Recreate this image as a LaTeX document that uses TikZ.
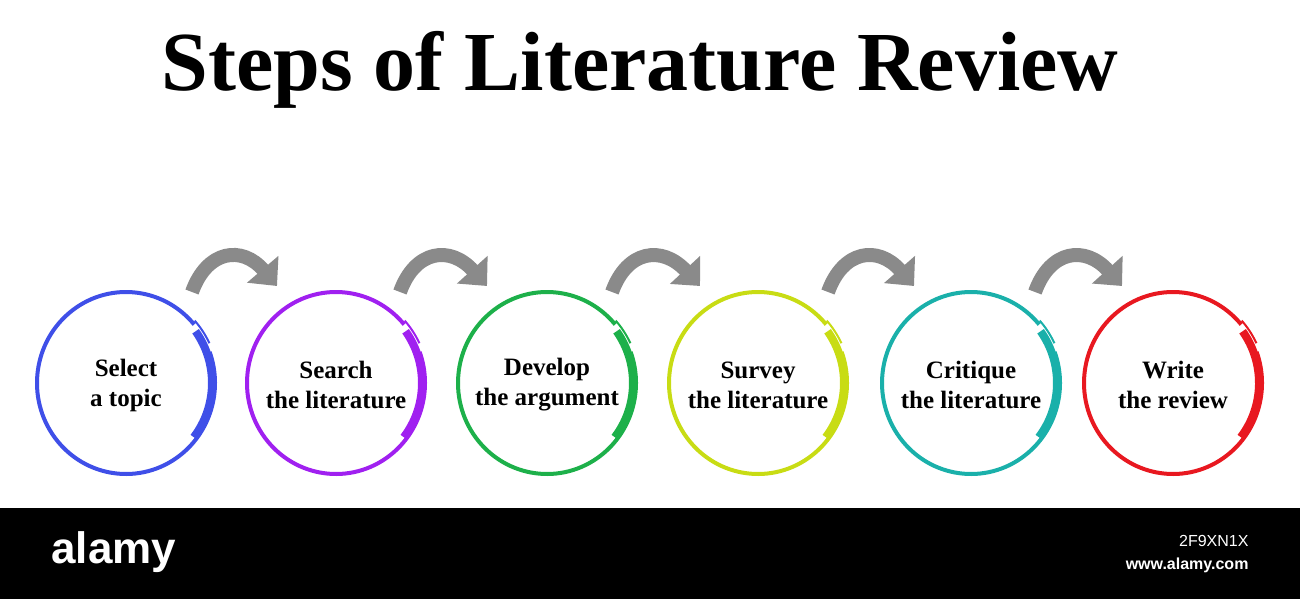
\documentclass[tikz,border=0pt]{standalone}
\usepackage{fontspec}
\setmainfont{Liberation Serif}
\setsansfont{Liberation Sans}
\usetikzlibrary{arrows.meta}
\definecolor{c1}{HTML}{3F4FE8}
\definecolor{c2}{HTML}{A020F0}
\definecolor{c3}{HTML}{1DB04A}
\definecolor{c4}{HTML}{C8DC14}
\definecolor{c5}{HTML}{1AB0AA}
\definecolor{c6}{HTML}{E81820}
\definecolor{ag}{HTML}{8A8A8A}
\tikzset{lbl/.style={font=\bfseries\fontsize{25}{30}\selectfont,align=center},
arr/.style={ag,line width=14pt,-{Triangle[length=22pt,width=40pt]}}}
\begin{document}
\begin{tikzpicture}[x=1pt,y=-1pt]
\useasboundingbox (0,0) rectangle (1300,599);
\node[font=\bfseries\fontsize{84}{88}\selectfont] (title) at (640,70) {Steps of Literature Review};
\foreach \i/\x/\c/\t in {1/126/c1/{Select\\a topic},2/336/c2/{Search\\the literature},3/547/c3/{Develop\\the argument},4/758/c4/{Survey\\the literature},5/971/c5/{Critique\\the literature},6/1173/c6/{Write\\the review}}{
  \node[lbl] (n\i) at (\x,385) {\t};
  \draw[\c,line width=4pt] (\x,383) ++(-40:89 and 91) arc[start angle=-40,end angle=-380,x radius=89,y radius=91];
  \draw[\c,line width=2pt] (\x,383) ++(-25:92 and 94) arc[start angle=-25,end angle=-42,x radius=90,y radius=92];
  \draw[\c,line width=8pt] (\x,383) ++(38:86 and 88) arc[start angle=38,end angle=-36,x radius=86,y radius=88];
}
\foreach \a/\b in {192/285,400/495,612/708,828/922,1035/1130}{
  \coordinate (s\a) at (\a,292);
  \coordinate (e\a) at (\b-8,286);
  \draw[arr] (s\a) .. controls (\a+15,250) and (\a+50,245) .. (e\a);
}
\fill[black] (0,508) rectangle (1300,599);
\node[white,font=\sffamily\bfseries\fontsize{44}{44}\selectfont,anchor=west] (al) at (48,552) {alamy};
\node[white,font=\sffamily\fontsize{16}{18}\selectfont,anchor=east] (id) at (1252,541) {2F9XN1X};
\node[white,font=\sffamily\bfseries\fontsize{16}{18}\selectfont,anchor=east] (www) at (1252,565) {www.alamy.com};
\end{tikzpicture}
\end{document}
